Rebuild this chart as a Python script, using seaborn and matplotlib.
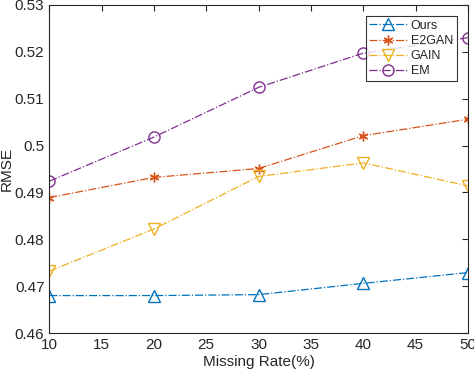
import numpy as np
import pandas as pd
import matplotlib
matplotlib.use("Agg")
import matplotlib.pyplot as plt
import seaborn as sns
from matplotlib.ticker import FuncFormatter

# data
missing_rate = [10, 20, 30, 40, 50]
ours = [0.4680, 0.4680, 0.4682, 0.4706, 0.4729]
e2gan = [0.4889, 0.4932, 0.4951, 0.5021, 0.5056]
gain = [0.4732, 0.4822, 0.4934, 0.4963, 0.4914]
em = [0.4924, 0.5018, 0.5124, 0.5197, 0.5230]

methods = ["Ours", "E2GAN", "GAIN", "EM"]
colors = ["#0072BD", "#D95319", "#EDB120", "#7E2F8E"]
markers = ["^", (6, 2, 0), "v", "o"]
msizes = [8, 7, 8, 8]

df = pd.DataFrame({"rate": missing_rate * 4,
                   "rmse": ours + e2gan + gain + em,
                   "method": np.repeat(methods, len(missing_rate))})

sns.set_style("white")
plt.rcParams["font.family"] = ["Liberation Sans", "DejaVu Sans"]

fig = plt.figure(figsize=(4.74, 3.73), dpi=100)
ax = fig.add_axes([0.104, 0.107, 0.883, 0.880])

for m, c, mk, ms in zip(methods, colors, markers, msizes):
    sub = df[df["method"] == m]
    sns.lineplot(data=sub, x="rate", y="rmse", ax=ax, color=c, linestyle="-.",
                 linewidth=0.9, marker=mk, markersize=ms,
                 markerfacecolor="none", markeredgecolor=c, markeredgewidth=1.0,
                 label=m)

ax.set_xlim(10, 50)
ax.set_ylim(0.46, 0.53)
ax.set_xticks(range(10, 51, 5))
ax.set_yticks(np.arange(0.46, 0.5301, 0.01))
ax.yaxis.set_major_formatter(FuncFormatter(lambda v, p: f"{round(v, 2):g}"))
ax.set_xlabel("Missing Rate(%)", fontsize=11, labelpad=2)
ax.set_ylabel("RMSE", fontsize=11, labelpad=1)
ax.tick_params(direction="in", length=4, labelsize=11, color="#262626",
               top=True, right=True, labeltop=False, labelright=False)
for s in ax.spines.values():
    s.set_color("#262626")
    s.set_linewidth(0.8)

leg = ax.legend(loc="upper right", fontsize=9, frameon=True, fancybox=False,
                edgecolor="black", handlelength=3.0, handletextpad=0.3,
                borderaxespad=0.9, labelspacing=0.25, borderpad=0.3)
leg.get_frame().set_linewidth(0.8)

fig.savefig("out.png", dpi=100)
